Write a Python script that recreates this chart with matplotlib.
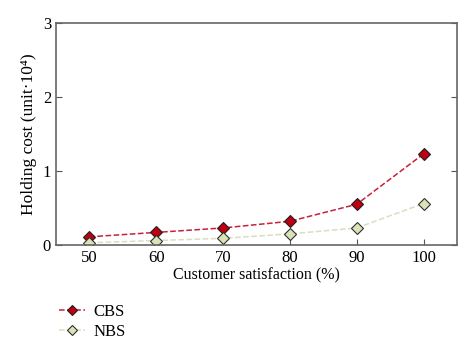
import matplotlib.pyplot as plt

satisfaction = [50, 60, 70, 80, 90, 100]
cbs = [0.11, 0.17, 0.23, 0.32, 0.55, 1.23]
nbs = [0.03, 0.06, 0.09, 0.15, 0.23, 0.56]

plt.rcParams['font.family'] = ['Liberation Serif', 'DejaVu Serif']

fig = plt.figure(figsize=(4.74, 3.53), dpi=100)
ax = fig.add_axes([0.118, 0.306, 0.846, 0.629])

ax.plot(satisfaction, cbs, linestyle='--', color='#c8203a', linewidth=1.1,
        marker='D', markersize=6, markerfacecolor='#c00010',
        markeredgecolor='#202020', markeredgewidth=0.8, label='CBS')
ax.plot(satisfaction, nbs, linestyle='--', color='#dcdcc0', linewidth=1.1,
        marker='D', markersize=6, markerfacecolor='#d8e4b8',
        markeredgecolor='#303030', markeredgewidth=0.8, label='NBS')

ax.set_xlim(45, 105)
ax.set_ylim(0, 3)
ax.set_xticks(satisfaction)
ax.set_yticks([0, 1, 2, 3])
ax.tick_params(direction='in', length=4, right=True, labelsize=12,
               color='#555555')
for s in ax.spines.values():
    s.set_color('#666666')
    s.set_linewidth(1.2)

ax.set_xlabel('Customer satisfaction (%)', fontsize=11.5, labelpad=1)
ax.set_ylabel('Holding cost (unit·10⁴)', fontsize=12.5, labelpad=4)

ax.legend(loc='upper left', bbox_to_anchor=(-0.01, -0.235), frameon=False,
          fontsize=12, handlelength=1.6, labelspacing=0.25, borderaxespad=0,
          handletextpad=0.5, markerscale=0.8)

fig.savefig('out.png', dpi=100)
